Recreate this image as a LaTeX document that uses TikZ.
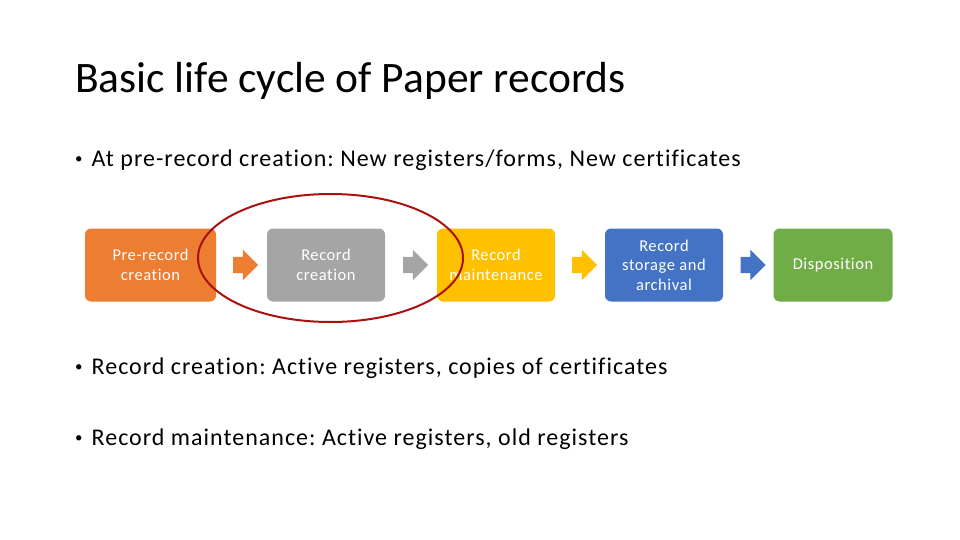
\documentclass[tikz,border=0pt]{standalone}
\usepackage{fontspec}
\setmainfont{Carlito}[Ligatures=CommonOff]
\newfontfamily\pointfont{Carlito}[LetterSpace=4.2, Ligatures=CommonOff]
\newfontfamily\stagefont{Carlito}[LetterSpace=3.5, Ligatures=CommonOff]
\usetikzlibrary{shapes.arrows, shapes.geometric}
\frenchspacing

\definecolor{stageorange}{HTML}{ED7D31}
\definecolor{stagegray}{HTML}{A5A5A5}
\definecolor{stagegold}{HTML}{FFC000}
\definecolor{stageblue}{HTML}{4472C4}
\definecolor{stagegreen}{HTML}{70AD47}
\definecolor{markred}{RGB}{170,16,16}

\newcommand{\pointmark}{\makebox[16.5pt][l]{\raisebox{3pt}{\fontsize{15}{15}\selectfont •}}}

\tikzset{
  stagebox/.style={rounded corners=6pt, minimum height=73pt, inner sep=0pt,
    text=white, align=center, font=\stagefont\fontsize{16.5}{19.5}\selectfont},
  stagearrow/.style={single arrow, minimum height=25pt, inner xsep=0pt, inner ysep=8pt,
    single arrow head extend=7pt, single arrow head indent=0pt},
  bullettext/.style={anchor=base west, inner sep=0pt, font=\pointfont\fontsize{24}{28}\selectfont}
}

\begin{document}
\begin{tikzpicture}[x=1pt, y=-1pt]
    \useasboundingbox (0,0) rectangle (960,540);
    % Titel
    \node[anchor=base west, inner sep=0pt, font=\fontsize{43.5}{50}\selectfont] (title) at (75,92.5) {Basic life cycle of Paper records};
    % Punkte
    \node[bullettext] (p1) at (75,166.5) {\pointmark At pre-record creation: New registers/forms, New certificates};
    \node[bullettext] (p2) at (75,374.5) {\pointmark Record creation: Active registers, copies of certificates};
    \node[bullettext] (p3) at (75,445) {\pointmark Record maintenance: Active registers, old registers};
    % Stufen
    \node[stagebox, fill=stageorange, minimum width=131pt] (pre) at (150.5,265) {Pre-record\\creation};
    \node[stagebox, fill=stagegray, minimum width=118pt] (create) at (326,265) {Record\\creation};
    \node[stagebox, fill=stagegold, minimum width=118pt] (maint) at (496,265) {Record\\maintenance};
    \node[stagebox, fill=stageblue, minimum width=118pt] (store) at (664,265) {Record\\storage and\\archival};
    \node[stagebox, fill=stagegreen, minimum width=119pt] (dispo) at (833,265) {Disposition};
    % Pfeile
    \node[stagearrow, fill=stageorange] (a1) at (241.5,265) {};
    \node[stagearrow, fill=stagegray] (a2) at (411.5,265) {};
    \node[stagearrow, fill=stagegold] (a3) at (580.5,265) {};
    \node[stagearrow, fill=stageblue] (a4) at (749,265) {};
    % Markierung
    \node[draw=markred, line width=2pt, ellipse, minimum width=265pt, minimum height=128pt, inner sep=0pt] (focus) at (330.5,258) {};
\end{tikzpicture}
\end{document}
